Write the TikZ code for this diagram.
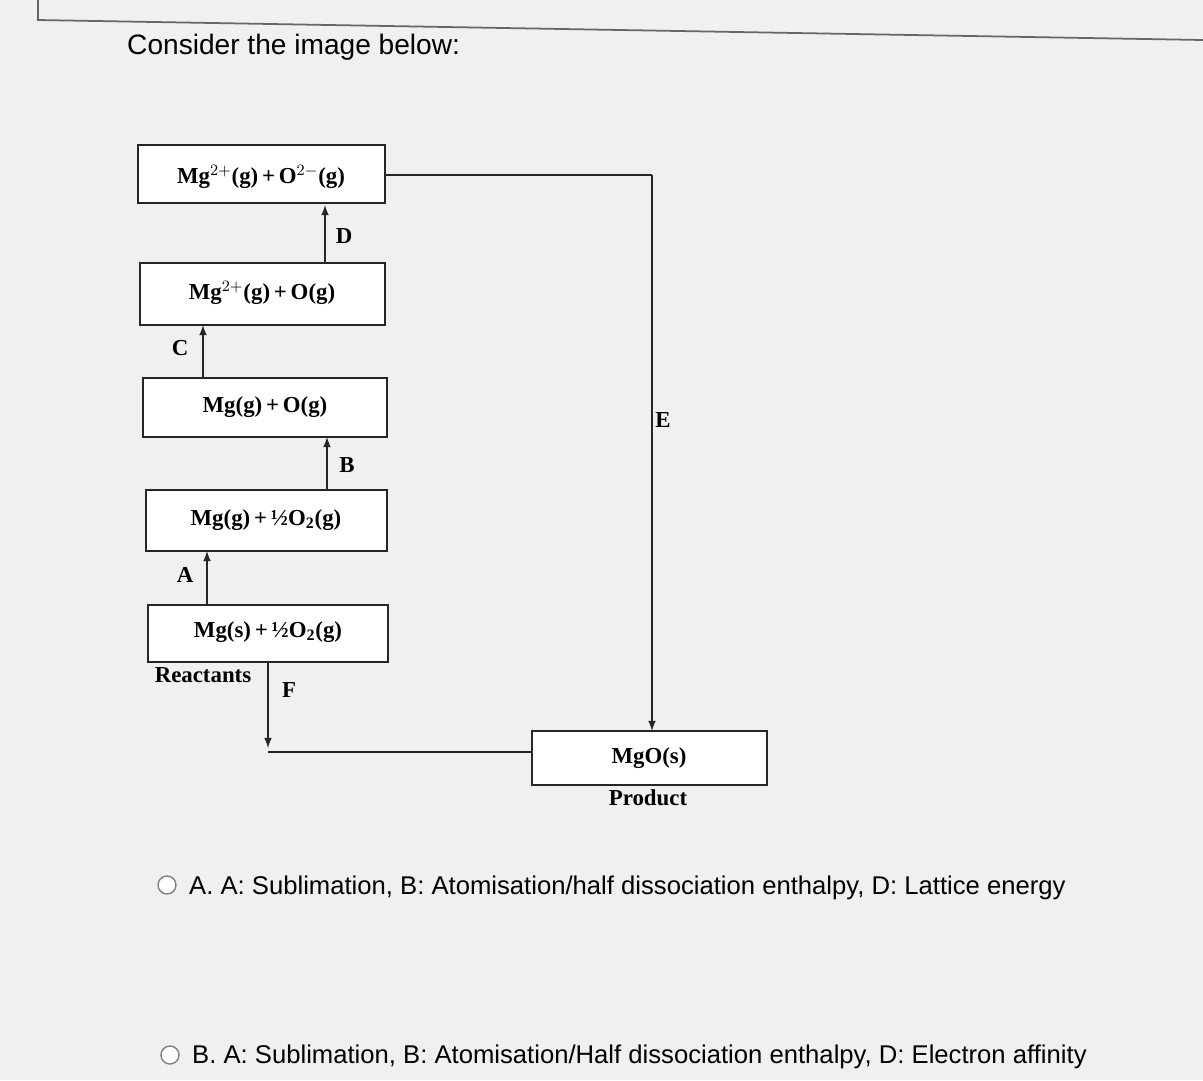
\documentclass[tikz,border=0pt]{standalone}
\usepackage{fontspec}
\setmainfont{Liberation Serif}
\newfontfamily\sansf{Liberation Sans}
\begin{document}
\begin{tikzpicture}[x=0.02cm,y=-0.02cm,
 box/.style={draw=black!85,line width=1.2pt,inner sep=0pt},
 lbl/.style={font=\bfseries\fontsize{13}{15}\selectfont},
 arr/.style={draw=black!85,line width=1pt,-latex},
 ln/.style={draw=black!85,line width=1pt}]
\fill[black!6] (0,0) rectangle (1203,1080);
\useasboundingbox (0,0) rectangle (1203,1080);
\draw[black!60,line width=1pt] (38,0) -- (38,20) -- (1203,40);
\draw[black!60,line width=1pt] (100,0) arc (180:360:12);
\node[font=\sansf\fontsize{16}{19}\selectfont,anchor=west] (q) at (121,47) {Consider the image below:};
% boxes
\draw[box,fill=white] (138,145) rectangle (385,203); \node[lbl] (b1) at (261,177) {Mg$^{2+}$(g)\,+\,O$^{2-}$(g)};
\draw[box,fill=white] (140,263) rectangle (385,325); \node[lbl] (b2) at (262,293) {Mg$^{2+}$(g)\,+\,O(g)};
\draw[box,fill=white] (143,378) rectangle (387,437); \node[lbl] (b3) at (265,407) {Mg(g)\,+\,O(g)};
\draw[box,fill=white] (146,490) rectangle (387,551); \node[lbl] (b4) at (266,520) {Mg(g)\,+\,½O\textsubscript{2}(g)};
\draw[box,fill=white] (148,605) rectangle (388,662); \node[lbl] (b5) at (268,632) {Mg(s)\,+\,½O\textsubscript{2}(g)};
\draw[box,fill=white] (532,731) rectangle (767,785); \node[lbl] (p) at (649,758) {MgO(s)};
\node[lbl] (pl) at (648,798) {Product};
\node[lbl] (rl) at (203,675) {Reactants};
% arrows
\coordinate (d0) at (325,263); \coordinate (d1) at (325,205);
\draw[arr] (d0) -- (d1); \node[lbl] (dl) at (344,236) {D};
\coordinate (c0) at (203,378); \coordinate (c1) at (203,325);
\draw[arr] (c0) -- (c1); \node[lbl] (cl) at (180,348) {C};
\coordinate (e0) at (327,490); \coordinate (e1) at (327,437);
\draw[arr] (e0) -- (e1); \node[lbl] (bl) at (347,465) {B};
\coordinate (a0) at (207,605); \coordinate (a1) at (207,551);
\draw[arr] (a0) -- (a1); \node[lbl] (al) at (185,575) {A};
\coordinate (f0) at (268,662); \coordinate (f1) at (268,748); \coordinate (f2) at (532,752);
\draw[arr] (f0) -- (f1); \draw[ln] (268,752) -- (f2); \node[lbl] (fl) at (289,690) {F};
\coordinate (g0) at (385,175); \coordinate (g1) at (652,175); \coordinate (g2) at (652,731);
\draw[ln] (g0) -- (g1); \draw[arr] (g1) -- (g2); \node[lbl] (el) at (663,420) {E};
% options
\draw[black!50,line width=0.8pt,fill=white] (167,885) circle (9);
\node[font=\sansf\fontsize{14.6}{17}\selectfont,anchor=west] (oa) at (183,888) {A. A: Sublimation, B: Atomisation/half dissociation enthalpy, D: Lattice energy};
\draw[black!50,line width=0.8pt,fill=white] (170,1055) circle (9);
\node[font=\sansf\fontsize{14.6}{17}\selectfont,anchor=west] (ob) at (186,1057) {B. A: Sublimation, B: Atomisation/Half dissociation enthalpy, D: Electron affinity};
\end{tikzpicture}
\end{document}
